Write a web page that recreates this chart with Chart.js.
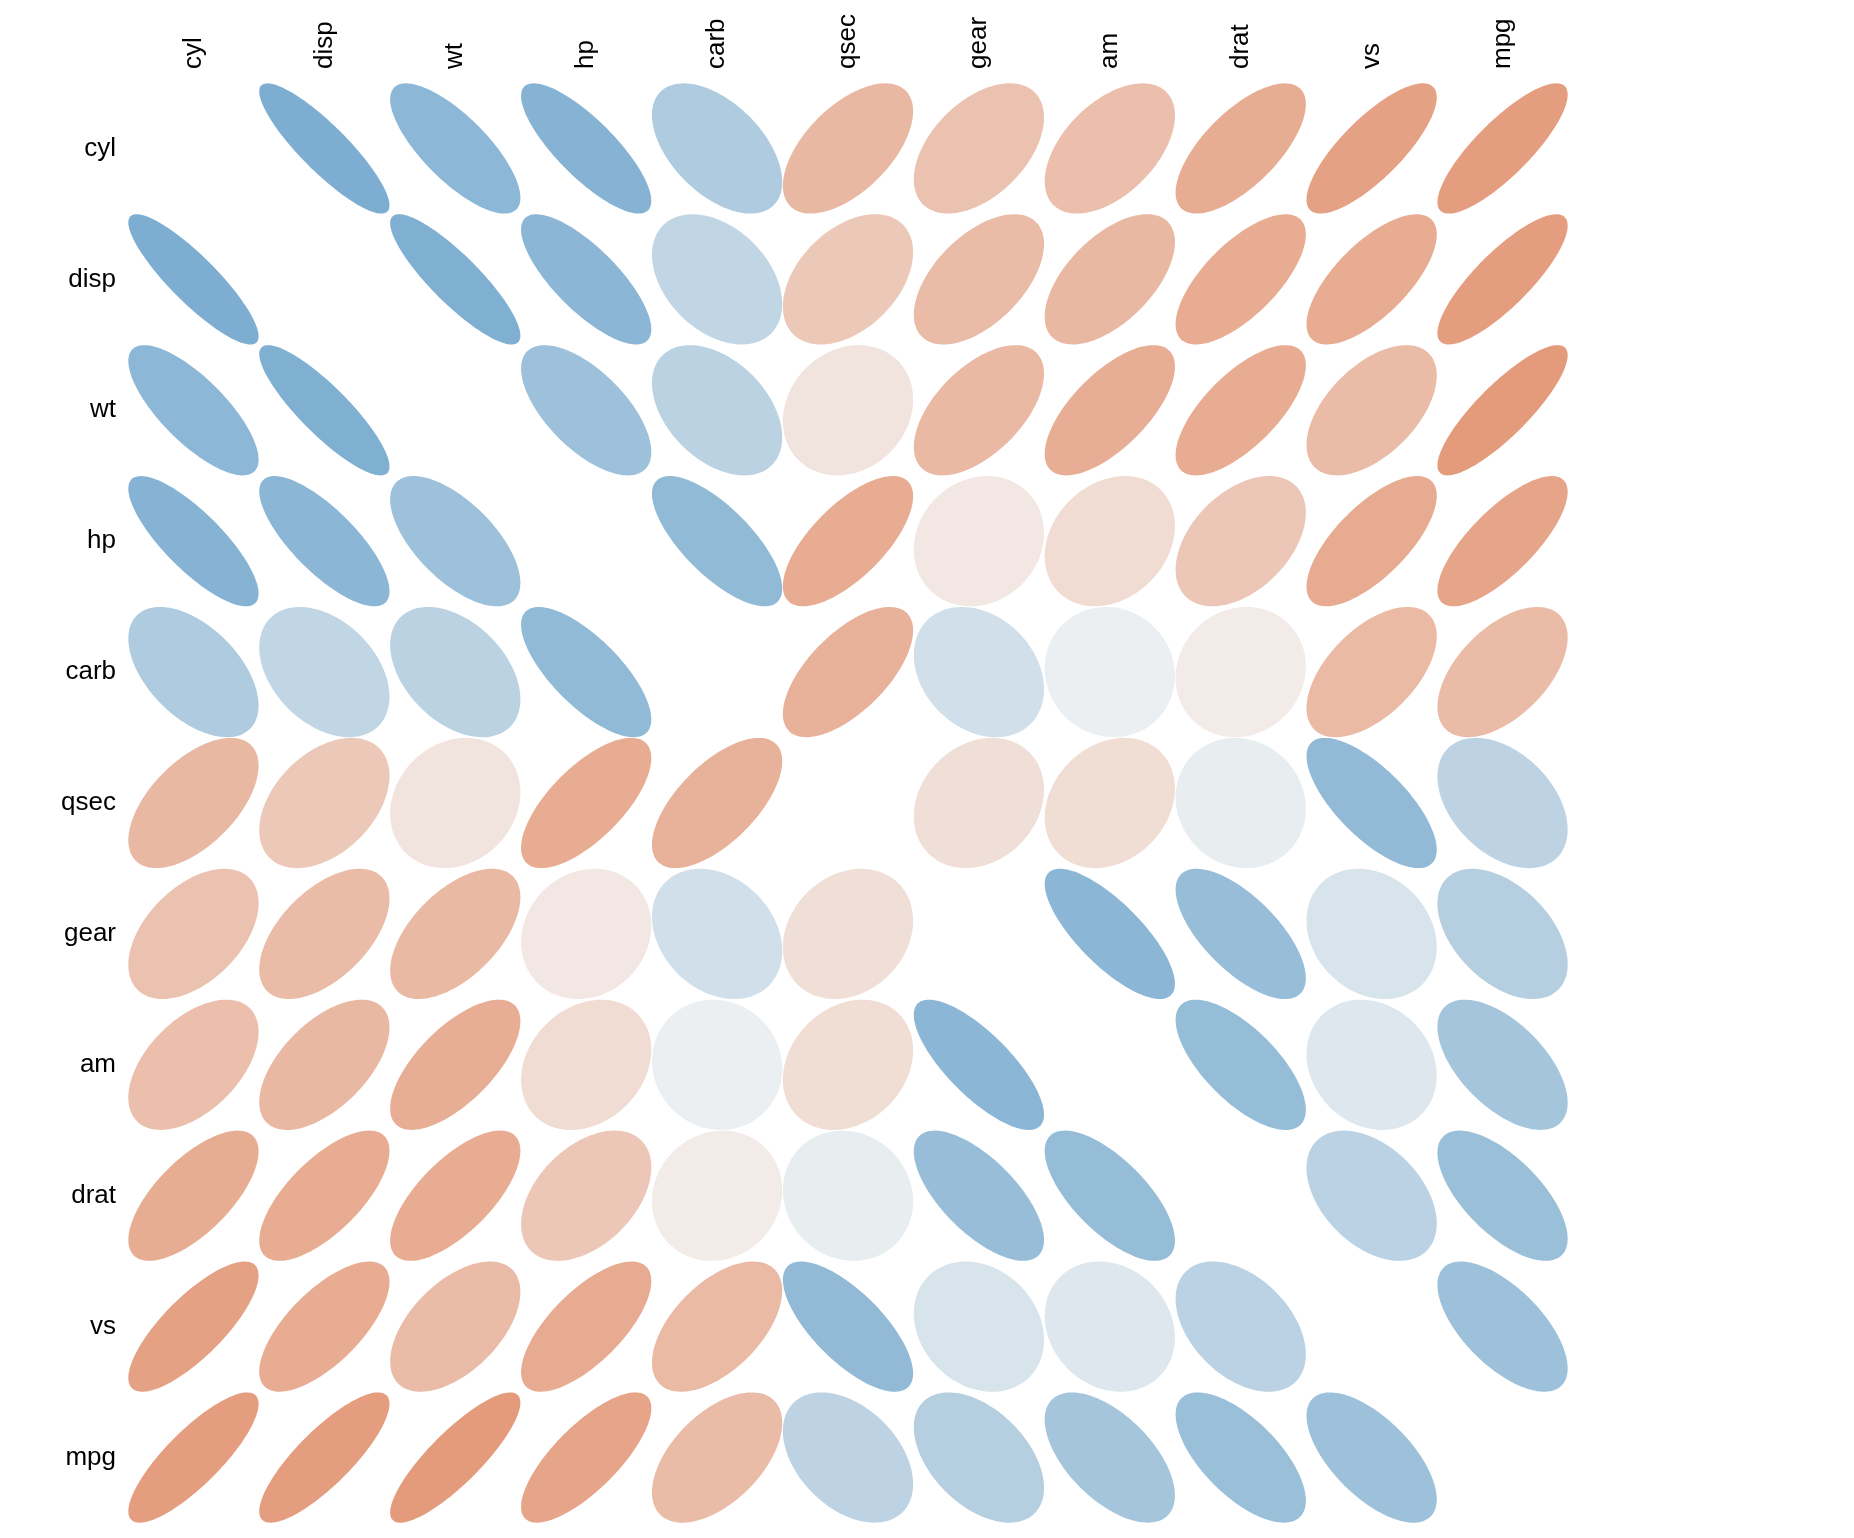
<!DOCTYPE html>
<html><head><meta charset="utf-8">
<script src="https://cdn.jsdelivr.net/npm/chart.js@4"></script>
<style>html,body{margin:0;background:#fff}#wrap{width:1854px;height:1538px}</style>
</head><body><div id="wrap"><canvas id="c"></canvas></div>
<script>
const vars = ["cyl","disp","wt","hp","carb","qsec","gear","am","drat","vs","mpg"];
const rCyl  = [1, 0.90, 0.78, 0.83, 0.53, -0.59, -0.49, -0.52, -0.70, -0.81, -0.85];
const rDisp = [0.90, 1, 0.89, 0.79, 0.39, -0.43, -0.56, -0.59, -0.71, -0.71, -0.85];
const rWt   = [0.78, 0.89, 1, 0.66, 0.43, -0.17, -0.58, -0.69, -0.71, -0.55, -0.87];
const rHp   = [0.83, 0.79, 0.66, 1, 0.75, -0.71, -0.13, -0.24, -0.45, -0.72, -0.78];
const rCarb = [0.53, 0.39, 0.43, 0.75, 1, -0.66, 0.27, 0.06, -0.09, -0.57, -0.55];
const rQsec = [-0.59, -0.43, -0.17, -0.71, -0.66, 1, -0.21, -0.23, 0.09, 0.74, 0.42];
const rGear = [-0.49, -0.56, -0.58, -0.13, 0.27, -0.21, 1, 0.79, 0.70, 0.21, 0.48];
const rAm   = [-0.52, -0.59, -0.69, -0.24, 0.06, -0.23, 0.79, 1, 0.71, 0.17, 0.60];
const rDrat = [-0.70, -0.71, -0.71, -0.45, -0.09, 0.09, 0.70, 0.71, 1, 0.44, 0.68];
const rVs   = [-0.81, -0.71, -0.55, -0.72, -0.57, 0.74, 0.21, 0.17, 0.44, 1, 0.66];
const rMpg  = [-0.85, -0.85, -0.87, -0.78, -0.55, 0.42, 0.48, 0.60, 0.68, 0.66, 1];
const corr = [rCyl,rDisp,rWt,rHp,rCarb,rQsec,rGear,rAm,rDrat,rVs,rMpg];

const pts = [];
corr.forEach((row,i)=>row.forEach((r,j)=>{ if(i!==j) pts.push({x:j,y:i,r:r}); }));

function colorFor(r){
  const a = Math.min(1,Math.abs(r));
  const base=[244,244,244];
  const end = r>=0 ? [112,166,205] : [226,142,106];
  const c = base.map((b,k)=>Math.round(b+(end[k]-b)*a));
  return `rgb(${c[0]},${c[1]},${c[2]})`;
}

const ellipses = {
  id:'ellipses',
  afterDatasetsDraw(chart){
    const ctx=chart.ctx, xs=chart.scales.x, ys=chart.scales.y;
    const cw = Math.abs(xs.getPixelForValue(1)-xs.getPixelForValue(0));
    const s = cw/2*0.995;
    ctx.save();
    pts.forEach(p=>{
      const cx=xs.getPixelForValue(p.x), cy=ys.getPixelForValue(p.y);
      const d=Math.acos(Math.max(-1,Math.min(1,p.r*0.97)));
      ctx.beginPath();
      for(let k=0;k<=120;k++){
        const t=k/120*2*Math.PI;
        const x=cx+s*Math.cos(t+d/2), y=cy+s*Math.cos(t-d/2);
        k?ctx.lineTo(x,y):ctx.moveTo(x,y);
      }
      ctx.closePath();
      ctx.fillStyle=colorFor(p.r);
      ctx.fill();
    });
    ctx.fillStyle='#000';
    ctx.font='26px "Liberation Sans", Arial, sans-serif';
    vars.forEach((v,i)=>{
      ctx.textAlign='right'; ctx.textBaseline='middle';
      ctx.fillText(v, xs.left-12, ys.getPixelForValue(i));
      ctx.save();
      ctx.translate(xs.getPixelForValue(i), ys.top-14);
      ctx.rotate(-Math.PI/2);
      ctx.textAlign='left'; ctx.textBaseline='middle';
      ctx.fillText(v,0,0);
      ctx.restore();
    });
    ctx.restore();
  }
};

new Chart(document.getElementById('c'),{
  type:'scatter',
  data:{datasets:[{data:pts, pointRadius:0, pointHoverRadius:0}]},
  options:{
    responsive:true, maintainAspectRatio:false, animation:false,
    layout:{padding:{left:128,top:83,right:286,bottom:15}},
    plugins:{legend:{display:false},tooltip:{enabled:false}},
    scales:{
      x:{type:'linear',min:-0.5,max:10.5,display:false},
      y:{type:'linear',min:-0.5,max:10.5,reverse:true,display:false}
    }
  },
  plugins:[ellipses]
});
</script></body></html>
